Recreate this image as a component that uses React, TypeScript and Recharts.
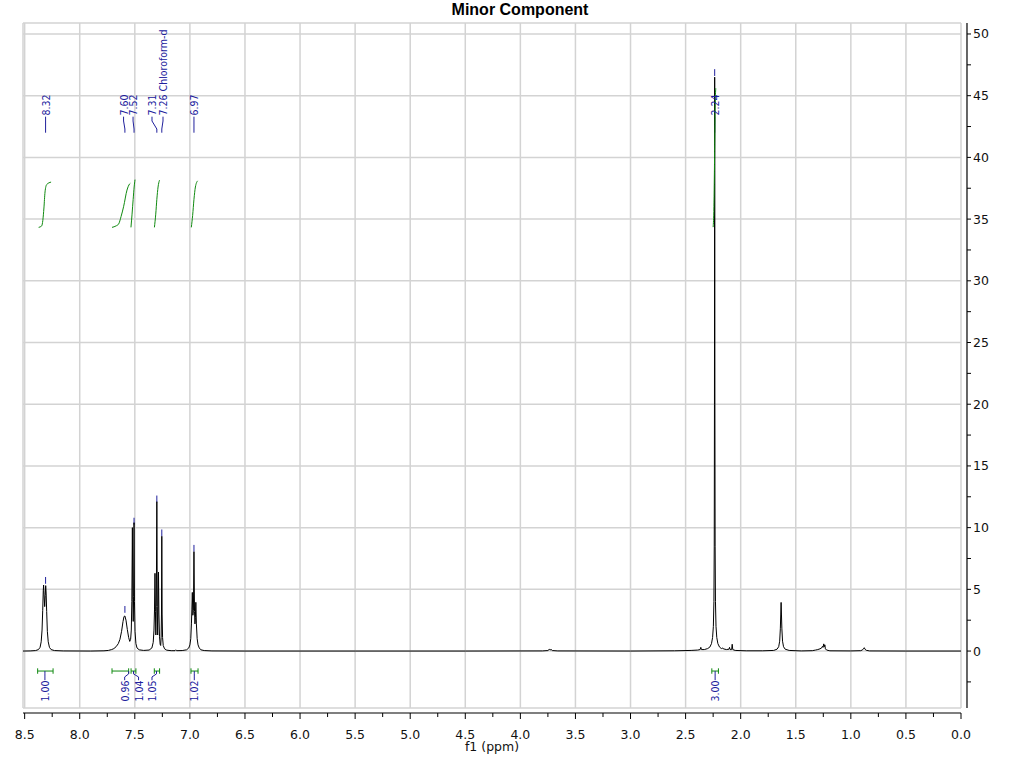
import React from "react";
import { ComposedChart, Line, XAxis, YAxis, ReferenceLine, ReferenceDot } from "recharts";

// axis extents (ppm / intensity)
const PPM_LEFT = 8.515;
const Y_MIN = -5.02;
const Y_MAX = 50.89;
const FRAME_BOTTOM = -4.62;
const AXIS_LINE_PPM = -0.0544; // y axis sits a few px right of 0.0

const xTicks = [8.5, 8.25, 8, 7.75, 7.5, 7.25, 7, 6.75, 6.5, 6.25, 6, 5.75, 5.5, 5.25, 5, 4.75, 4.5, 4.25, 4, 3.75, 3.5, 3.25, 3, 2.75, 2.5, 2.25, 2, 1.75, 1.5, 1.25, 1, 0.75, 0.5, 0.25, 0];
const yTicks = [-2.5, 0, 2.5, 5, 7.5, 10, 12.5, 15, 17.5, 20, 22.5, 25, 27.5, 30, 32.5, 35, 37.5, 40, 42.5, 45, 47.5, 50];
const gridPpm = [8.5, 8, 7.5, 7, 6.5, 6, 5.5, 5, 4.5, 4, 3.5, 3, 2.5, 2, 1.5, 1, 0.5, 0];
const gridIntensity = [0, 5, 10, 15, 20, 25, 30, 35, 40, 45, 50];

// spectrum, [ppm, intensity]
const downfield: [number, number][] = [
  [8.515, 0], [8.45, 0.01], [8.4, 0.04], [8.375, 0.12], [8.36, 0.3], [8.35, 0.75], [8.342, 1.7],
  [8.336, 3.3], [8.331, 4.9], [8.328, 5.35], [8.324, 4.6], [8.318, 3.6], [8.313, 4.5], [8.309, 5.3],
  [8.305, 4.7], [8.3, 3.2], [8.294, 1.6], [8.286, 0.75], [8.275, 0.3], [8.26, 0.12], [8.23, 0.04],
  [8.15, 0.01], [7.9, 0], [7.78, 0.02],
];
const aromatic: [number, number][] = [
  [7.74, 0.05], [7.71, 0.12], [7.69, 0.2], [7.67, 0.35], [7.65, 0.6], [7.635, 0.95], [7.62, 1.6],
  [7.607, 2.4], [7.598, 2.8], [7.59, 2.84], [7.58, 2.5], [7.568, 1.75], [7.556, 1.1], [7.546, 0.78],
  [7.538, 0.95], [7.532, 1.7], [7.527, 4.0], [7.522, 10.0], [7.518, 4.2], [7.5145, 2.4], [7.511, 4.4],
  [7.507, 10.4], [7.503, 4.0], [7.498, 1.6], [7.49, 0.6], [7.48, 0.25], [7.46, 0.1], [7.42, 0.05],
  [7.37, 0.08], [7.345, 0.25], [7.333, 0.7], [7.326, 1.7], [7.321, 3.4], [7.317, 6.3], [7.313, 3.2],
  [7.309, 1.3], [7.305, 3.6], [7.3, 12.1], [7.296, 3.6], [7.2925, 1.3], [7.289, 3.0], [7.285, 6.4],
  [7.281, 3.0], [7.276, 1.2], [7.27, 0.55], [7.265, 0.45], [7.261, 1.1], [7.258, 3.0], [7.255, 9.3],
  [7.252, 3.0], [7.248, 1.1], [7.242, 0.45], [7.23, 0.18], [7.21, 0.07], [7.17, 0.03], [7.135, 0.03],
  [7.128, 0.1], [7.12, 0.03], [7.07, 0.04],
];
const h697: [number, number][] = [
  [7.03, 0.1], [7.01, 0.25], [7.0, 0.5], [6.992, 1.0], [6.986, 2.2], [6.982, 3.4], [6.978, 4.75],
  [6.973, 2.9], [6.968, 3.3], [6.963, 8.05], [6.958, 3.2], [6.954, 2.2], [6.95, 2.7], [6.946, 3.95],
  [6.941, 2.2], [6.934, 1.0], [6.926, 0.5], [6.915, 0.25], [6.9, 0.1], [6.87, 0.04], [6.8, 0.01],
];
const midfield: [number, number][] = [
  [6.5, 0], [5.5, 0], [4.5, 0], [3.8, 0.01], [3.75, 0.04], [3.738, 0.14], [3.73, 0.08], [3.722, 0.14],
  [3.71, 0.04], [3.66, 0.01], [3.0, 0], [2.6, 0.02], [2.45, 0.05], [2.39, 0.08], [2.368, 0.12],
  [2.362, 0.3], [2.356, 0.12], [2.33, 0.12],
];
const methyl: [number, number][] = [
  [2.3, 0.2], [2.28, 0.32], [2.265, 0.6], [2.255, 1.1], [2.248, 2.0], [2.243, 4.0], [2.24, 8.5],
  [2.238, 20], [2.236, 46.5], [2.234, 20], [2.232, 8.5], [2.229, 4.0], [2.224, 2.0], [2.217, 1.1],
  [2.207, 0.6], [2.192, 0.32], [2.175, 0.2], [2.163, 0.25], [2.158, 0.18], [2.13, 0.12], [2.106, 0.15],
  [2.101, 0.3], [2.096, 0.12], [2.082, 0.12], [2.077, 0.55], [2.072, 0.12], [2.05, 0.05], [1.95, 0.02],
];
const upfield: [number, number][] = [
  [1.8, 0.02], [1.7, 0.05], [1.67, 0.15], [1.655, 0.35], [1.646, 0.8], [1.64, 1.8], [1.636, 3.0],
  [1.633, 3.94], [1.63, 3.0], [1.626, 1.8], [1.62, 0.8], [1.611, 0.35], [1.596, 0.15], [1.56, 0.05],
  [1.45, 0.01], [1.35, 0.03], [1.32, 0.08], [1.3, 0.12], [1.28, 0.18], [1.265, 0.25], [1.258, 0.38],
  [1.252, 0.3], [1.246, 0.58], [1.241, 0.35], [1.236, 0.5], [1.231, 0.18], [1.22, 0.08], [1.19, 0.02],
  [1.0, 0.01], [0.91, 0.03], [0.893, 0.1], [0.884, 0.22], [0.878, 0.27], [0.871, 0.14], [0.86, 0.06],
  [0.83, 0.01], [0.5, 0], [0, 0],
];

// peak picking
const peakText = ["8.32", "7.60", "7.52", "7.31", "7.26 Chloroform-d", "6.97", "2.24"];
const peakLabelPpm = [8.31, 7.602, 7.516, 7.344, 7.244, 6.963, 2.236];
const peakPpm = [8.31, 7.59, 7.507, 7.3, 7.255, 6.963, 2.236];
const peakMark = [5.45, 3.1, 10.25, 12.05, 9.3, 8.05, 46.6];

// integrals
const integralText = ["1.00", "0.96", "1.04", "1.05", "1.02", "3.00"];
const integralFrom = [8.382, 7.707, 7.534, 7.323, 6.99, 2.262];
const integralTo = [8.242, 7.556, 7.49, 7.275, 6.926, 2.202];
const integralLabelPpm = [8.316, 7.592, 7.466, 7.344, 6.96, 2.232];
const integralLinkPpm = [8.316, 7.556, 7.512, 7.303, 6.96, 2.232];
const integralCurves: [number, number][][] = [
  [[8.373, 34.33], [8.345, 34.45], [8.335, 34.9], [8.325, 35.9], [8.315, 37.2], [8.3, 37.8], [8.26, 38.0]],
  [[7.707, 34.33], [7.67, 34.45], [7.647, 34.6], [7.625, 35.2], [7.602, 36.0], [7.571, 37.35], [7.547, 37.85], [7.541, 37.9]],
  [[7.535, 34.33], [7.525, 35.4], [7.515, 36.6], [7.506, 37.6], [7.498, 38.2]],
  [[7.322, 34.33], [7.31, 35.4], [7.3, 36.6], [7.289, 37.6], [7.276, 38.15]],
  [[6.987, 34.33], [6.975, 35.3], [6.963, 36.6], [6.95, 37.6], [6.93, 38.1]],
  [[2.25, 34.35], [2.243, 36.0], [2.237, 40.0], [2.232, 44.0], [2.226, 45.6]],
];

const spectrum = [...downfield, ...aromatic, ...h697, ...midfield, ...methyl, ...upfield].map(([ppm, v]) => ({ ppm, v }));

const BLUE = "#20209c";
const GREEN = "#108a10";
const GRID = "#d3d3d3";
const TICK_FONT = '"DejaVu Sans", Verdana, sans-serif';
const LABEL_FONT = '"DejaVu Sans Condensed", "DejaVu Sans", sans-serif';

// label layout in intensity units
const PEAK_TEXT_Y = 43.3;
const PEAK_BEND_TOP = 42.95;
const PEAK_BEND_LOW = 42.3;
const PEAK_LINK_END = 42.0;
const MARK_LEN = 0.55;
const BRACKET_Y = -1.62;
const CAP = 0.22;
const INT_BEND_TOP = -1.85;
const INT_BEND_LOW = -2.1;
const INT_TEXT_Y = -2.36;

function XTick(props: any) {
  const { x, y, payload } = props;
  const v = payload.value as number;
  const major = Math.abs(v * 2 - Math.round(v * 2)) < 1e-6;
  return (
    <g>
      <line x1={x} x2={x} y1={y} y2={y + (major ? 6 : 4)} stroke="#000" strokeWidth={1} />
      {major && (
        <text x={x} y={y + 21} textAnchor="middle" dominantBaseline="central" fontFamily={TICK_FONT} fontSize={12.5} fill="#111">
          {v.toFixed(1)}
        </text>
      )}
    </g>
  );
}

function YTick(props: any) {
  const { x, y, payload } = props;
  const v = payload.value as number;
  const major = v % 5 === 0;
  return (
    <g>
      <line x1={x} x2={x + 4} y1={y} y2={y} stroke="#000" strokeWidth={1} />
      {major && (
        <text x={x + 6} y={y} textAnchor="start" dominantBaseline="central" fontFamily={TICK_FONT} fontSize={12.5} fill="#111">
          {v}
        </text>
      )}
    </g>
  );
}

function vText(text: string, anchor: "start" | "end") {
  return (p: any) => (
    <text
      x={p.cx}
      y={p.cy}
      transform={`rotate(-90 ${p.cx} ${p.cy})`}
      textAnchor={anchor}
      dominantBaseline="central"
      fontFamily={LABEL_FONT}
      fontSize={10.5}
      fill={BLUE}
    >
      {text}
    </text>
  );
}

function seg(key: string, a: [number, number], b: [number, number], stroke: string, width = 1) {
  return (
    <ReferenceLine
      key={key}
      segment={[{ x: a[0], y: a[1] }, { x: b[0], y: b[1] }]}
      stroke={stroke}
      strokeWidth={width}
      ifOverflow="visible"
      zIndex={-100}
    />
  );
}

function link(key: string, fromPpm: number, toPpm: number, y0: number, y1: number, y2: number, y3: number) {
  return [
    seg(key + "a", [fromPpm, y0], [fromPpm, y1], BLUE),
    seg(key + "b", [fromPpm, y1], [toPpm, y2], BLUE),
    seg(key + "c", [toPpm, y2], [toPpm, y3], BLUE),
  ];
}

export default function App() {
  return (
    <div style={{ position: "relative", width: 1024, height: 765, background: "#fff" }}>
      <style>{"body{margin:0}"}</style>
      <div
        style={{
          position: "absolute",
          top: 0,
          left: 370,
          width: 300,
          textAlign: "center",
          font: 'bold 16px "Liberation Sans", Arial, sans-serif',
          lineHeight: "20px",
          color: "#000",
          zIndex: 2,
        }}
      >
        Minor Component
      </div>
      <ComposedChart width={1024} height={765} margin={{ top: 23, right: 7, bottom: 0, left: 23 }}>
        <XAxis
          dataKey="ppm"
          type="number"
          domain={[0, PPM_LEFT]}
          reversed
          allowDataOverflow
          ticks={xTicks}
          interval={0}
          padding={{ left: 0, right: 6 }}
          axisLine={false}
          tickLine={false}
          tickSize={0}
          tickMargin={0}
          tick={(p: any) => <XTick {...p} />}
          height={52}
        />
        <YAxis
          orientation="right"
          type="number"
          domain={[Y_MIN, Y_MAX]}
          allowDataOverflow
          ticks={yTicks}
          interval={0}
          width={50}
          axisLine={false}
          tickLine={false}
          tickSize={0}
          tickMargin={0}
          tick={(p: any) => <YTick {...p} />}
        />

        {gridPpm.map((g) => seg("gv" + g, [g, Y_MAX], [g, FRAME_BOTTOM], GRID, 1.5))}
        {gridIntensity.map((g) => seg("gh" + g, [PPM_LEFT, g], [0, g], GRID, 1.5))}
        {seg("frameL", [PPM_LEFT, Y_MAX], [PPM_LEFT, FRAME_BOTTOM], GRID, 1.5)}
        {seg("frameT", [PPM_LEFT, Y_MAX], [0, Y_MAX], GRID, 1.5)}
        {seg("frameB", [PPM_LEFT, FRAME_BOTTOM], [0, FRAME_BOTTOM], GRID, 1.5)}
        {seg("xaxis", [PPM_LEFT, Y_MIN], [0, Y_MIN], "#000", 1.2)}
        {seg("yaxis", [AXIS_LINE_PPM, Y_MAX], [AXIS_LINE_PPM, FRAME_BOTTOM], "#000", 1.2)}

        <Line data={spectrum} dataKey="v" type="linear" stroke="#000" strokeWidth={1} dot={false} isAnimationActive={false} />

        {integralCurves.map((c, i) => (
          <Line
            key={"ic" + i}
            data={c.map(([ppm, v]) => ({ ppm, v }))}
            dataKey="v"
            type="monotone"
            stroke={GREEN}
            strokeWidth={1}
            dot={false}
            isAnimationActive={false}
          />
        ))}

        {integralText.map((t, i) => [
          seg("ib" + i, [integralFrom[i], BRACKET_Y], [integralTo[i], BRACKET_Y], GREEN),
          seg("il" + i, [integralFrom[i], BRACKET_Y - CAP], [integralFrom[i], BRACKET_Y + CAP], GREEN),
          seg("ir" + i, [integralTo[i], BRACKET_Y - CAP], [integralTo[i], BRACKET_Y + CAP], GREEN),
          ...link("ik" + i, integralLinkPpm[i], integralLabelPpm[i], BRACKET_Y, INT_BEND_TOP, INT_BEND_LOW, INT_TEXT_Y),
          <ReferenceDot key={"it" + i} x={integralLabelPpm[i]} y={INT_TEXT_Y - 0.03} r={0} ifOverflow="visible" shape={vText(t, "end")} />,
        ])}

        {peakText.map((t, i) => [
          seg("pm" + i, [peakPpm[i], peakMark[i]], [peakPpm[i], peakMark[i] + MARK_LEN], BLUE),
          ...link("pk" + i, peakLabelPpm[i], peakPpm[i], PEAK_TEXT_Y, PEAK_BEND_TOP, PEAK_BEND_LOW, PEAK_LINK_END),
          <ReferenceDot key={"pt" + i} x={peakLabelPpm[i]} y={PEAK_TEXT_Y + 0.1} r={0} ifOverflow="visible" shape={vText(t, "start")} />,
        ])}
      </ComposedChart>
      <div
        style={{
          position: "absolute",
          top: 739,
          left: 392,
          width: 200,
          textAlign: "center",
          font: '12.5px "DejaVu Sans", Verdana, sans-serif',
          lineHeight: "16px",
          color: "#111",
        }}
      >
        f1 (ppm)
      </div>
    </div>
  );
}
